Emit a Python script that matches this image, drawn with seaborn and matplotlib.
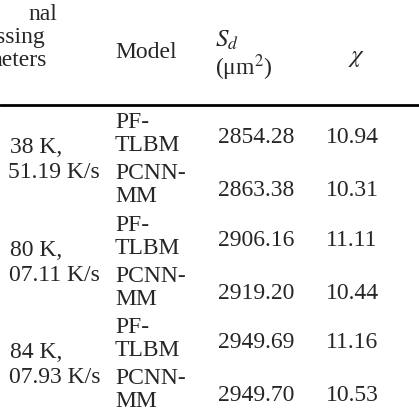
import matplotlib
matplotlib.use("Agg")
import matplotlib.pyplot as plt
import seaborn as sns

# table content (left column is cropped in the reference, so only the visible parts)
header_params = ["nal", "ssing", "neters"]
temps = ["38 K,", "80 K,", "84 K,"]
rates = ["51.19 K/s", "07.11 K/s", "07.93 K/s"]
models = ["PF-\nTLBM", "PCNN-\nMM"]
sd_vals = [2854.28, 2863.38, 2906.16, 2919.20, 2949.69, 2949.70]
chi_vals = [10.94, 10.31, 11.11, 10.44, 11.16, 10.53]

sns.set_style("white")
plt.rcParams["font.family"] = ["Liberation Serif", "DejaVu Serif"]
plt.rcParams["mathtext.fontset"] = "stix"

fig = plt.figure(figsize=(4.19, 4.19), dpi=100)
ax = fig.add_axes([0, 0, 1, 1])
ax.set_xlim(0, 419)
ax.set_ylim(419, 0)
ax.axis("off")

fs = 17
# header
for y, txt, xr in zip([15, 38, 60], header_params, [57, 45, 47]):
    ax.text(xr, y, txt, ha="right", va="center", fontsize=fs)
ax.text(115, 52, "Model", ha="left", va="center", fontsize=fs)
ax.text(215, 40, "$S_d$", ha="left", va="center", fontsize=fs + 1)
ax.text(215, 68, "(μm$^2$)", ha="left", va="center", fontsize=fs)
ax.text(357, 58, "$\\chi$", ha="center", va="center", fontsize=fs + 1)
ax.plot([0, 419], [105, 105], color="black", lw=2)

group_top = [122, 225, 327]
for g, y0 in enumerate(group_top):
    ax.text(62, y0 + 25, temps[g], ha="right", va="center", fontsize=fs)
    ax.text(100, y0 + 50, rates[g], ha="right", va="center", fontsize=fs)
    for m in range(2):
        ym = y0 + m * 51
        ax.text(115, ym + 12, models[m], ha="left", va="center",
                fontsize=fs, linespacing=1.15)
        i = g * 2 + m
        yv = y0 + 15 if m == 0 else y0 + 68
        ax.text(218, yv, f"{sd_vals[i]:.2f}", ha="left", va="center", fontsize=fs)
        ax.text(352, yv, f"{chi_vals[i]:.2f}", ha="center", va="center", fontsize=fs)

fig.savefig("out.png", dpi=100)
